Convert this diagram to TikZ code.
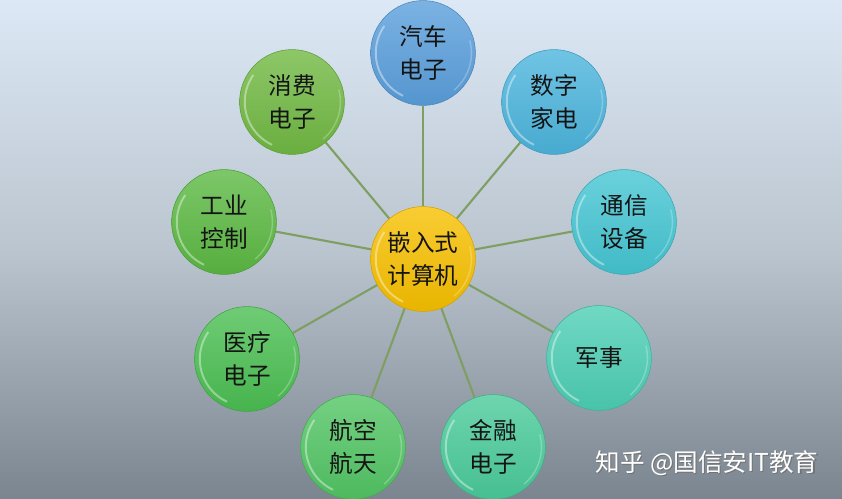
\documentclass[tikz,border=0pt]{standalone}
\usepackage{fontspec}
\setmainfont{Noto Sans CJK SC}
\usetikzlibrary{backgrounds}
\definecolor{hubgold}{HTML}{F7C000}
\definecolor{carblue}{HTML}{5A9FDC}
\definecolor{homeblue}{HTML}{4CB5DD}
\definecolor{commcyan}{HTML}{45C6D3}
\definecolor{milteal}{HTML}{4DCFB5}
\definecolor{finteal}{HTML}{4ACB9B}
\definecolor{aerogreen}{HTML}{52C564}
\definecolor{medgreen}{HTML}{4BBF52}
\definecolor{indgreen}{HTML}{5CB943}
\definecolor{consgreen}{HTML}{71B943}
\definecolor{spokegreen}{HTML}{7F9E62}
\definecolor{bgtop}{HTML}{DCE8F5}
\definecolor{bgmid}{HTML}{BAC5CF}
\definecolor{bgbot}{HTML}{7B858F}
\tikzset{
  ball/.style={circle, minimum size=2.62cm, inner sep=0pt, align=center,
    top color=#1!80!white, bottom color=#1!94!black, draw=#1!85!black, thin,
    text=black!92, font=\fontsize{16.8}{23.5}\selectfont,
    path picture={
      \draw[white, opacity=.4, line width=1.4pt]
        (path picture bounding box.center) ++(145:1.18cm)
        arc[start angle=145, end angle=245, radius=1.18cm];
      \draw[white, opacity=.25, line width=1pt]
        (path picture bounding box.center) ++(15:1.21cm)
        arc[start angle=15, end angle=-50, radius=1.21cm];}},
  spoke/.style={spokegreen, line width=1.5pt}
}
\begin{document}
\begin{tikzpicture}[x=0.025cm, y=-0.025cm]
\begin{pgfonlayer}{background}
\shade[top color=bgtop, bottom color=bgbot, middle color=bgmid] (0,0) rectangle (842,499);
\end{pgfonlayer}
\useasboundingbox (0,0) rectangle (842,499);

\node[ball=hubgold] (hub) at (423,259) {嵌入式\\计算机};
\node[ball=carblue] (car) at (423,53) {汽车\\电子};
\node[ball=homeblue] (home) at (554,102) {数字\\家电};
\node[ball=commcyan] (comm) at (624,222) {通信\\设备};
\node[ball=milteal] (mil) at (599,358) {军事};
\node[ball=finteal] (fin) at (493,447) {金融\\电子};
\node[ball=aerogreen] (aero) at (353,447) {航空\\航天};
\node[ball=medgreen] (med) at (247,359) {医疗\\电子};
\node[ball=indgreen] (ind) at (224,222) {工业\\控制};
\node[ball=consgreen] (cons) at (292,102) {消费\\电子};

\begin{pgfonlayer}{background}
\foreach \n in {car,home,comm,mil,fin,aero,med,ind,cons}
  \draw[spoke] (hub) -- (\n);
\end{pgfonlayer}

\node[text=black!55, font=\fontsize{17.5}{20}\selectfont] (markshade) at (708.2,464.2) {知乎 @国信安IT教育};
\node[text=white, font=\fontsize{17.5}{20}\selectfont] (mark) at (707,463) {知乎 @国信安IT教育};
\end{tikzpicture}
\end{document}
